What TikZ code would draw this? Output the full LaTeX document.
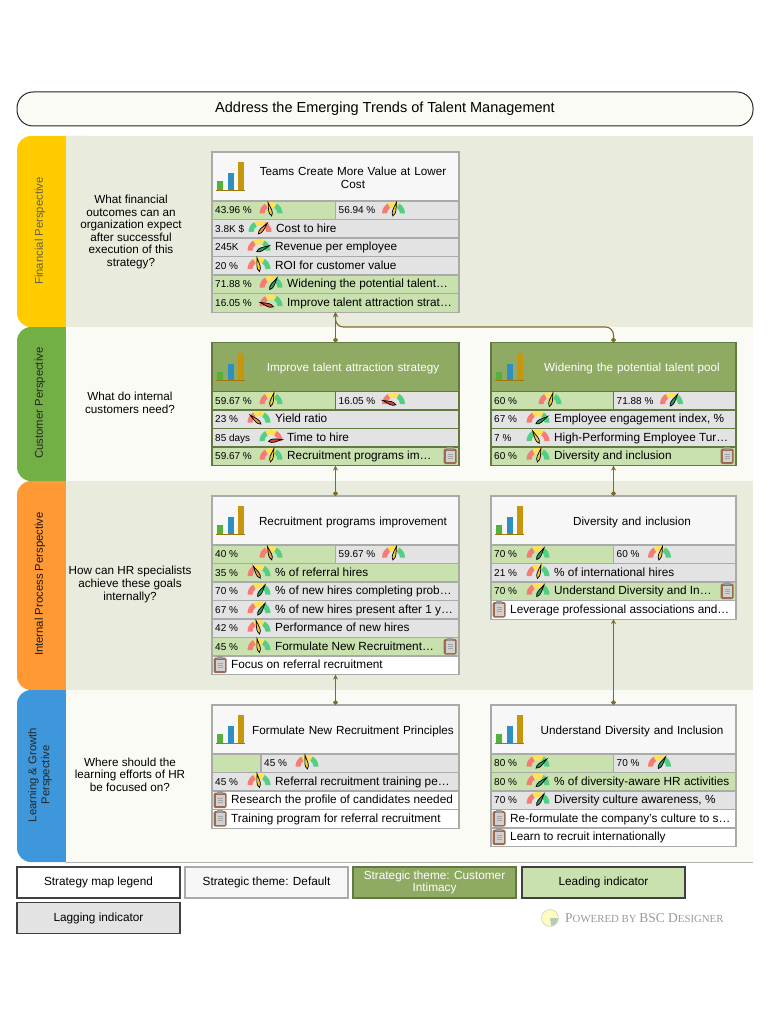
\documentclass[tikz,border=0pt]{standalone}
\usepackage{fontspec}
\setmainfont{Liberation Sans}
\newfontfamily\logofont{Liberation Serif}
\usetikzlibrary{arrows.meta}

\definecolor{bandA}{HTML}{E9EBDC}
\definecolor{bandB}{HTML}{FBFBF6}
\definecolor{tabyellow}{HTML}{FFCC00}
\definecolor{tabgreen}{HTML}{72AF45}
\definecolor{tab6orange}{HTML}{FF9933}
\definecolor{tabblue}{HTML}{3E97DB}
\definecolor{leadfill}{HTML}{C9E0AF}
\definecolor{lagfill}{HTML}{E3E3E3}
\definecolor{headfill}{HTML}{F7F7F7}
\definecolor{themefill}{HTML}{8FAA62}
\definecolor{themeline}{HTML}{62793F}
\definecolor{boxline}{HTML}{A8ABA8}
\definecolor{linkcol}{HTML}{7F6B2E}
\definecolor{gaugered}{HTML}{F47C72}
\definecolor{gaugeyel}{HTML}{FFE25A}
\definecolor{gaugegrn}{HTML}{52CF82}
\definecolor{ndlyel}{HTML}{F4CE2A}
\definecolor{ndlora}{HTML}{E89A3C}
\definecolor{ndlgrn}{HTML}{2E9A58}
\definecolor{ndlred}{HTML}{D8443C}
\definecolor{notebrown}{HTML}{9C6B52}
\definecolor{bargreen}{HTML}{55B03C}
\definecolor{barblue}{HTML}{2E8FC0}
\definecolor{bargold}{HTML}{C8960C}

\tikzset{
	rowbox/.style={draw=boxline, line width=1.1pt, anchor=north west, inner sep=0pt, outer sep=0pt,
		minimum width=247pt, minimum height=18.55pt},
	rightrow/.style={minimum width=245pt},
	leadrow/.style={rowbox, fill=leadfill},
	lagrow/.style={rowbox, fill=lagfill},
	plainrow/.style={rowbox, fill=white},
	leadtheme/.style={leadrow, draw=themeline},
	lagtheme/.style={lagrow, draw=themeline},
	boxhead/.style={rowbox, fill=headfill, minimum height=49pt},
	themehead/.style={boxhead, fill=themefill, draw=themeline},
	headtext/.style={align=center, text width=210pt, font=\fontsize{11.7}{12.6}\selectfont, inner sep=0pt},
	valtext/.style={anchor=west, inner sep=0pt, font=\fontsize{10}{11}\selectfont, text height=1.5ex, text depth=.25ex},
	labtext/.style={anchor=west, inner sep=0pt, font=\fontsize{11.8}{13}\selectfont, text height=1.5ex, text depth=.25ex},
	asktext/.style={align=center, inner sep=0pt, font=\fontsize{11.7}{12.6}\selectfont},
	tabtext/.style={rotate=90, align=center, inner sep=0pt, font=\fontsize{11.3}{13}\selectfont},
	legendbox/.style={draw=black!75, line width=1.4pt, minimum width=163pt, minimum height=31pt, inner sep=0pt,
		anchor=north west, outer sep=0pt, align=center, font=\fontsize{11.8}{12.4}\selectfont},
	link/.style={draw=linkcol, line width=1.1pt, {Circle[length=5pt]}-{Stealth[length=5pt,width=5pt]}},
}

% gauge colours, left to right
\def\gL{gaugered}
\def\gR{gaugegrn}
\newcommand{\greenleft}{\def\gL{gaugegrn}\def\gR{gaugered}}

\newcommand{\gauge}[4]{%
	\begin{scope}[shift={(#1,#2)},yscale=-1]
		\fill[\gL] (180:11.5) arc[start angle=180,end angle=120,radius=11.5] -- (120:6.5) arc[start angle=120,end angle=180,radius=6.5] -- cycle;
		\fill[gaugeyel] (120:11.5) arc[start angle=120,end angle=60,radius=11.5] -- (60:6.5) arc[start angle=60,end angle=120,radius=6.5] -- cycle;
		\fill[\gR] (60:11.5) arc[start angle=60,end angle=0,radius=11.5] -- (0:6.5) arc[start angle=0,end angle=60,radius=6.5] -- cycle;
		\draw[fill=#4,line width=.7pt,rotate=-#3] (11.5,0) .. controls (4,1.3) and (1,3) .. (-2.5,0) .. controls (1,-3) and (4,-1.3) .. (11.5,0) -- cycle;
	\end{scope}}

\newcommand{\barchart}[2]{%
	\fill[bargreen] (#1+5,#2+29) rectangle (#1+11,#2+38);
	\fill[barblue] (#1+16,#2+21) rectangle (#1+22,#2+38);
	\fill[bargold] (#1+26,#2+10) rectangle (#1+32,#2+38);
	\draw[bargold!80!black,line width=.8pt] (#1+4,#2+38) -- (#1+33,#2+38);}

\newcommand{\noteicon}[2]{%
	\fill[notebrown,rounded corners=1.5pt] (#1-6.5,#2-7.5) rectangle (#1+6.5,#2+8);
	\fill[black!18] (#1-4.5,#2-5.5) rectangle (#1+4.5,#2+6);
	\fill[black!40] (#1-3,#2-9) rectangle (#1+3,#2-6);
	\draw[black!35,line width=.5pt] (#1-2.5,#2-2) -- (#1+2.5,#2-2) (#1-2.5,#2) -- (#1+2.5,#2) (#1-2.5,#2+2) -- (#1+2.5,#2+2);}

% box head: name, x, y, style, title
\newcommand{\kbox}[5]{%
	\node[#4] (#1) at (#2,#3) {};
	\barchart{#2}{#3}
	\node[headtext] (#1T) at (#2+141,#3+26) {#5};}

% name, x, y, style, value, gauge dx, angle, needle, label
\newcommand{\kpi}[9]{%
	\node[#4] (#1) at (#2,#3) {};
	\node[valtext] (#1v) at (#2+3,#3+9.25) {#5};
	\gauge{#2+#6}{#3+12.5}{#7}{#8}
	\node[labtext] (#1t) at (#2+#6+16,#3+9.25) {#9};}

% name, x, y, width, style, value, gauge dx, angle, needle
\newcommand{\halfkpi}[9]{%
	\node[#5,minimum width=#4pt] (#1) at (#2,#3) {};
	\node[valtext] (#1v) at (#2+3,#3+9.25) {#6};
	\gauge{#2+#7}{#3+12.5}{#8}{#9}}

% name, x, y, style, text
\newcommand{\task}[5]{%
	\node[#4] (#1) at (#2,#3) {};
	\noteicon{#2+8}{#3+9}
	\node[labtext] (#1t) at (#2+19,#3+9.25) {#5};}

\begin{document}
\begin{tikzpicture}[x=1pt,y=-1pt]
	\useasboundingbox (0,0) rectangle (768,1024);
	% title
	\node[draw=black!85,line width=1pt,fill=bandB,rounded corners=16pt,minimum width=736pt,minimum height=34pt,inner sep=0pt,
		font=\fontsize{14.5}{16}\selectfont] (title) at (385,109) {\raisebox{-1pt}{Address the Emerging Trends of Talent Management}};
	% perspectives
	\fill[tabyellow,rounded corners=14pt] (17,136) rectangle (100,327);
	\fill[tabgreen,rounded corners=14pt] (17,327) rectangle (100,481);
	\fill[tab6orange,rounded corners=14pt] (17,481) rectangle (100,690);
	\fill[tabblue,rounded corners=14pt] (17,690) rectangle (100,862);
	\fill[bandA] (66,136) rectangle (753,327);
	\fill[bandB] (66,327) rectangle (753,481);
	\fill[bandA] (66,481) rectangle (753,690);
	\fill[bandB] (66,690) rectangle (753,862);
	\draw[black!30,line width=.6pt] (66,862) -- (753,862);
	\node[tabtext,text=black!70!yellow] (tabF) at (40,231) {Financial Perspective};
	\node[tabtext,text=black!85] (tabC) at (40,403) {Customer Perspective};
	\node[tabtext,text=black!90] (tabI) at (40,584) {Internal Process Perspective};
	\node[tabtext,text=black!85] (tabL) at (40,775) {Learning \& Growth\\Perspective};
	% questions
	\node[asktext] (askF) at (131,232) {What financial\\outcomes can an\\organization expect\\after successful\\execution of this\\strategy?};
	\node[asktext] (askC) at (130,403) {What do internal\\customers need?};
	\node[asktext] (askI) at (130,584.5) {How can HR specialists\\achieve these goals\\internally?};
	\node[asktext] (askL) at (130,774.5) {Where should the\\learning efforts of HR\\be focused on?};

	% financial
	\kbox{teams}{212}{152}{boxhead}{Teams Create More Value at Lower\\Cost}
	\halfkpi{t1a}{212}{201}{123.5}{leadrow}{43.96 \%}{59}{105}{ndlyel}
	\halfkpi{t1b}{335.5}{201}{123.5}{lagrow}{56.94 \%}{58}{75}{ndlyel}
	{\greenleft\kpi{t2}{212}{219.5}{lagrow}{3.8K \$}{48}{50}{ndlora}{Cost to hire}}
	\kpi{t3}{212}{238}{lagrow}{245K}{47}{25}{ndlgrn}{Revenue per employee}
	\kpi{t4}{212}{256.5}{lagrow}{20 \%}{47}{100}{ndlyel}{ROI for customer value}
	\kpi{t5}{212}{275}{leadrow}{71.88 \%}{59}{58}{ndlgrn}{Widening the potential talent…}
	\kpi{t6}{212}{293.5}{leadrow}{16.05 \%}{59}{162}{ndlred}{Improve talent attraction strat…}

	% customer
	\kbox{imp}{212}{342.5}{themehead}{\textcolor{white}{Improve talent attraction strategy}}
	\halfkpi{i1a}{212}{391.5}{123.5}{leadtheme}{59.67 \%}{59}{75}{ndlyel}
	\halfkpi{i1b}{335.5}{391.5}{123.5}{lagtheme}{16.05 \%}{58}{162}{ndlred}
	\kpi{i2}{212}{410}{lagtheme}{23 \%}{47}{140}{ndlora}{Yield ratio}
	{\greenleft\kpi{i3}{212}{428.5}{lagtheme}{85 days}{59}{8}{ndlred}{Time to hire}}
	\kpi{i4}{212}{447}{leadtheme}{59.67 \%}{59}{75}{ndlyel}{Recruitment programs im…}
	\noteicon{450}{456}

	\kbox{wid}{491}{342.5}{themehead,rightrow}{\textcolor{white}{Widening the potential talent pool}}
	\halfkpi{w1a}{491}{391.5}{122.5}{leadtheme}{60 \%}{59}{75}{ndlyel}
	\halfkpi{w1b}{613.5}{391.5}{122.5}{lagtheme}{71.88 \%}{58}{58}{ndlgrn}
	\kpi{w2}{491}{410}{lagtheme,rightrow}{67 \%}{47}{32}{ndlgrn}{Employee engagement index, \%}
	{\greenleft\kpi{w3}{491}{428.5}{lagtheme,rightrow}{7 \%}{47}{118}{ndlyel}{High-Performing Employee Tur…}}
	\kpi{w4}{491}{447}{leadtheme,rightrow}{60 \%}{47}{75}{ndlyel}{Diversity and inclusion}
	\noteicon{727}{456}

	% internal process
	\kbox{rec}{212}{496}{boxhead}{Recruitment programs improvement}
	\halfkpi{r1a}{212}{545}{123.5}{leadrow}{40 \%}{59}{108}{ndlora}
	\halfkpi{r1b}{335.5}{545}{123.5}{lagrow}{59.67 \%}{58}{75}{ndlyel}
	\kpi{r2}{212}{563.5}{leadrow}{35 \%}{47}{120}{ndlora}{\% of referral hires}
	\kpi{r3}{212}{582}{lagrow}{70 \%}{47}{58}{ndlgrn}{\% of new hires completing prob…}
	\kpi{r4}{212}{600.5}{lagrow}{67 \%}{47}{58}{ndlgrn}{\% of new hires present after 1 y…}
	\kpi{r5}{212}{619}{lagrow}{42 \%}{47}{105}{ndlyel}{Performance of new hires}
	\kpi{r6}{212}{637.5}{leadrow}{45 \%}{47}{100}{ndlyel}{Formulate New Recruitment…}
	\noteicon{450}{646.5}
	\task{r7}{212}{656}{plainrow}{Focus on referral recruitment}

	\kbox{div}{491}{496}{boxhead,rightrow}{Diversity and inclusion}
	\halfkpi{d1a}{491}{545}{122.5}{leadrow}{70 \%}{47}{58}{ndlgrn}
	\halfkpi{d1b}{613.5}{545}{122.5}{lagrow}{60 \%}{46}{75}{ndlyel}
	\kpi{d2}{491}{563.5}{lagrow,rightrow}{21 \%}{47}{75}{ndlyel}{\% of international hires}
	\kpi{d3}{491}{582}{leadrow,rightrow}{70 \%}{47}{58}{ndlgrn}{Understand Diversity and In…}
	\noteicon{727}{591}
	\task{d4}{491}{600.5}{plainrow,rightrow}{Leverage professional associations and…}

	% learning and growth
	\kbox{form}{212}{705}{boxhead}{Formulate New Recruitment Principles}
	\node[leadrow,minimum width=49pt] (f1a) at (212,754) {};
	\halfkpi{f1b}{261}{754}{198}{lagrow}{45 \%}{46}{100}{ndlyel}
	\kpi{f2}{212}{772.5}{lagrow}{45 \%}{47}{100}{ndlyel}{Referral recruitment training pe…}
	\task{f3}{212}{791}{plainrow}{Research the profile of candidates needed}
	\task{f4}{212}{809.5}{plainrow}{Training program for referral recruitment}

	\kbox{und}{491}{705}{boxhead,rightrow}{Understand Diversity and Inclusion}
	\halfkpi{u1a}{491}{754}{122.5}{leadrow}{80 \%}{47}{40}{ndlgrn}
	\halfkpi{u1b}{613.5}{754}{122.5}{lagrow}{70 \%}{46}{58}{ndlgrn}
	\kpi{u2}{491}{772.5}{leadrow,rightrow}{80 \%}{47}{40}{ndlgrn}{\% of diversity-aware HR activities}
	\kpi{u3}{491}{791}{lagrow,rightrow}{70 \%}{47}{58}{ndlgrn}{Diversity culture awareness, \%}
	\task{u4}{491}{809.5}{plainrow,rightrow}{Re-formulate the company’s culture to s…}
	\task{u5}{491}{828}{plainrow,rightrow}{Learn to recruit internationally}

	% links
	\coordinate (elbow) at (480,327);
	\draw[link] (imp.north) -- (t6.south);
	\draw[link,rounded corners=8pt] (wid.north) -- (wid.north |- elbow) -- (t6.south |- elbow) -- (t6.south);
	\draw[link] (rec.north) -- (i4.south);
	\draw[link] (div.north) -- (w4.south);
	\draw[link] (form.north) -- (r7.south);
	\draw[link] (und.north) -- (d4.south);

	% legend
	\node[legendbox,fill=white] (lgA) at (17,867) {Strategy map legend};
	\node[legendbox,fill=headfill,draw=boxline] (lgB) at (185,867) {Strategic theme: Default};
	\node[legendbox,fill=themefill,draw=themeline,text=white] (lgC) at (353,867) {Strategic theme: Customer\\Intimacy};
	\node[legendbox,fill=leadfill] (lgD) at (522,867) {Leading indicator};
	\node[legendbox,fill=lagfill] (lgE) at (17,902.5) {Lagging indicator};
	% logo
	\draw[black!25,fill=yellow!25] (550,918) circle (8.5);
	\fill[green!35!black!30] (550,918) -- (558,918) arc[start angle=0,end angle=80,radius=8] -- cycle;
	\node[inner sep=0pt,anchor=west,text=black!40,font=\logofont\fontsize{10.8}{12}\selectfont] (logo) at (565,918) {{\fontsize{13.5}{12}\selectfont P}OWERED BY {\fontsize{13.5}{12}\selectfont BSC D}ESIGNER};
\end{tikzpicture}
\end{document}
